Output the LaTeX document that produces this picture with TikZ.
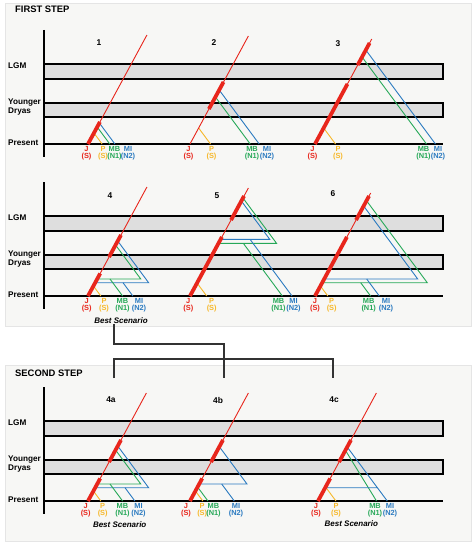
\documentclass[tikz,border=0pt]{standalone}
\usepackage{fontspec}
\setmainfont{Liberation Sans}
\usetikzlibrary{positioning,calc}
\definecolor{jred}{RGB}{232,38,28}
\definecolor{pyel}{RGB}{246,184,42}
\definecolor{mbgreen}{RGB}{38,168,88}
\definecolor{miblue}{RGB}{42,122,192}
\definecolor{bandgray}{RGB}{222,222,222}
\definecolor{panelbg}{RGB}{247,247,245}
% red bar on the J lineage, from height #1 to #2
\newcommand{\redbar}[2]{\draw[jthick] ({rx(#1)},#1) -- ({rx(#2)},#2);}
% lineage leaving J at height #2 and running down to height #3
\newcommand{\branch}[3]{\draw[lin,#1] ({rx(#2)},#2) -- ({rx(#2)+bx(#2-#3)},#3);}
% lineage leaving J at #2, down to #3, and back to J
\newcommand{\loopback}[3]{\draw[lin,#1] ({rx(#2)},#2) -- ({rx(#2)+bx(#2-#3)},#3) -- ({rx(#3)},#3);}
% drop from a horizontal at (#2,#3) to the present
\newcommand{\drop}[3]{\draw[lin,#1] (#2,#3) -- ({#2+bx(#3)},0);}

\begin{document}
\begin{tikzpicture}[x=1pt,y=-1pt,
    declare function={rx(\h)=\h/1.85; bx(\h)=\h/1.35;},
    panel/.style={fill=panelbg,draw=black!10,line width=0.7pt},
    band/.style={draw=black,fill=bandgray,line width=1.2pt},
    timeline/.style={draw=black,line width=1.3pt},
    era/.style={font=\fontsize{8.2}{9}\selectfont\bfseries,align=left,anchor=west,inner sep=0pt},
    steplab/.style={font=\fontsize{9.4}{10}\selectfont\bfseries,anchor=west,inner sep=0pt},
    num/.style={font=\fontsize{8.4}{9}\selectfont\bfseries,inner sep=0pt},
    best/.style={font=\fontsize{8}{9}\selectfont\bfseries\itshape,inner sep=0pt},
    sp/.style={font=\fontsize{7.4}{7.4}\selectfont\bfseries,align=center,inner sep=0pt},
    lin/.style={line width=0.9pt},
    jthin/.style={lin,draw=jred},
    jthick/.style={draw=jred,line width=3.8pt},
    link/.style={draw=black!80,line width=1.1pt}]
  \useasboundingbox[fill=white] (0,0) rectangle (474,543);
  \draw[panel] (5,3) rectangle (471,326);
  \draw[panel] (5,365) rectangle (471,541);
  \node[steplab] (first) at (15,9.5) {FIRST STEP};
  \node[steplab] (second) at (15,373) {SECOND STEP};

  \foreach \dy in {0,152,357}{
    \draw[band] (44,64+\dy) rectangle (443,79+\dy);
    \draw[band] (44,103+\dy) rectangle (443,117+\dy);
    \draw[timeline] (44,144+\dy) -- (443,144+\dy);
    \draw[timeline] (44,30+\dy) -- (44,157+\dy);
    \node[era] (lgm\dy) at (8,66+\dy) {LGM};
    \node[era] (yd\dy) at (8,107.5+\dy) {Younger\\Dryas};
    \node[era] (pres\dy) at (8,142.5+\dy) {Present};
  }

  % scenario numbers
  \node[num] (n1) at (99,43) {1};
  \node[num] (n2) at (214,43) {2};
  \node[num] (n3) at (338,44) {3};
  \node[num] (n4) at (110,196) {4};
  \node[num] (n5) at (217,196) {5};
  \node[num] (n6) at (333,194) {6};
  \node[num] (n4a) at (111,400) {4a};
  \node[num] (n4b) at (218,400) {4b};
  \node[num] (n4c) at (334,400) {4c};

  % 1
  \begin{scope}[shift={(88,144)},yscale=-1]
    \branch{pyel}{11}{0}
    \branch{mbgreen}{17}{0}
    \branch{miblue}{21}{0}
    \draw[jthin] (0,0) -- ({rx(109)},109);
    \redbar{0}{22}
  \end{scope}
  % 2
  \begin{scope}[shift={(190,144)},yscale=-1]
    \branch{pyel}{16}{0}
    \branch{mbgreen}{47}{0}
    \branch{miblue}{54}{0}
    \draw[jthin] (0,0) -- ({rx(108)},108);
    \redbar{35}{62}
  \end{scope}
  % 3
  \begin{scope}[shift={(315,144)},yscale=-1]
    \branch{pyel}{16}{0}
    \branch{mbgreen}{87}{0}
    \branch{miblue}{94}{0}
    \draw[jthin] (0,0) -- ({rx(105)},105);
    \redbar{0}{60}
    \redbar{79}{101}
  \end{scope}
  % 4
  \begin{scope}[shift={(88,296)},yscale=-1]
    \branch{pyel}{10}{0}
    \loopback{mbgreen}{51}{17}
    \loopback{miblue}{55}{13.3}
    \drop{mbgreen}{22}{17}
    \drop{miblue}{35}{13.3}
    \draw[jthin] (0,0) -- ({rx(109)},109);
    \redbar{0}{22.5}
    \redbar{39}{61}
  \end{scope}
  % 5
  \begin{scope}[shift={(190,296)},yscale=-1]
    \branch{pyel}{13}{0}
    \loopback{mbgreen}{98}{52.7}
    \loopback{miblue}{95}{56.7}
    \drop{mbgreen}{53.3}{52.7}
    \drop{miblue}{60}{56.7}
    \draw[jthin] (0,0) -- ({rx(108)},108);
    \redbar{0}{59}
    \redbar{76}{100}
  \end{scope}
  % 6
  \begin{scope}[shift={(315,296)},yscale=-1]
    \branch{pyel}{10}{0}
    \loopback{miblue}{90}{17}
    \loopback{mbgreen}{95.3}{13.3}
    \drop{mbgreen}{45.7}{13.3}
    \drop{miblue}{51.7}{17}
    \draw[jthin] (0,0) -- ({rx(103)},103);
    \redbar{0}{59}
    \redbar{76}{100}
  \end{scope}
  % 4a
  \begin{scope}[shift={(88,501)},yscale=-1]
    \branch{pyel}{10}{0}
    \loopback{mbgreen}{51}{17}
    \loopback{miblue}{55}{13.3}
    \drop{mbgreen}{22}{17}
    \drop{miblue}{37}{13.3}
    \draw[jthin] (0,0) -- ({rx(108)},108);
    \redbar{0}{22.5}
    \redbar{39}{61}
  \end{scope}
  % 4b
  \begin{scope}[shift={(190,501)},yscale=-1]
    \branch{pyel}{10}{0}
    \branch{mbgreen}{14}{0}
    \loopback{miblue}{54.3}{17}
    \drop{miblue}{31.7}{17}
    \draw[jthin] (0,0) -- ({rx(108)},108);
    \redbar{0}{22.5}
    \redbar{39}{61}
  \end{scope}
  % 4c
  \begin{scope}[shift={(318,501)},yscale=-1]
    \branch{pyel}{14}{0}
    \draw[lin,mbgreen] ({rx(50.7)},50.7) -- (58.5,0);
    \loopback{miblue}{54}{13.3}
    \drop{miblue}{59.4}{13.3}
    \draw[jthin] (0,0) -- ({rx(108)},108);
    \redbar{0}{22.5}
    \redbar{39}{61}
  \end{scope}

  % species labels
  \foreach \px/\py/\jx/\pxx/\mbx/\mix in {1/0/86.5/103/114.5/128, 2/0/188.5/211.5/252/267, 3/0/312.5/338/423.5/438,
      4/152/86.7/104/122.5/139, 5/152/188.3/211.7/278.5/293.5, 6/152/315/331.7/368.7/386,
      4a/357/85.7/102.7/122.5/138.5, 4b/357/186/202.2/213.5/236, 4c/357/316/336/375/390}{
    \node[sp,text=jred] (j\px) at (\jx,153.5+\py) {J\\(S)};
    \node[sp,text=pyel] (p\px) at (\pxx,153.5+\py) {P\\(S)};
    \node[sp,text=mbgreen] (mb\px) at (\mbx,153.5+\py) {MB\\(N1)};
    \node[sp,text=miblue] (mi\px) at (\mix,153.5+\py) {MI\\(N2)};
  }

  \node[best] (best4) at (121,320.7) {Best Scenario};
  \node[best] (best4a) at (119.7,524.3) {Best Scenario};
  \node[best] (best4c) at (351.3,524) {Best Scenario};

  % from the best scenario to the second step
  \coordinate (fa) at (224,344);
  \coordinate (fc) at (333,359);
  \coordinate (t4a) at (114,378);
  \coordinate (t4b) at (224,378);
  \coordinate (t4c) at (333,378);
  \draw[link] ([xshift=-7pt]best4.south) |- (fa) -- (t4b);
  \draw[link] (t4a) |- (fc) -- (t4c);
\end{tikzpicture}
\end{document}
